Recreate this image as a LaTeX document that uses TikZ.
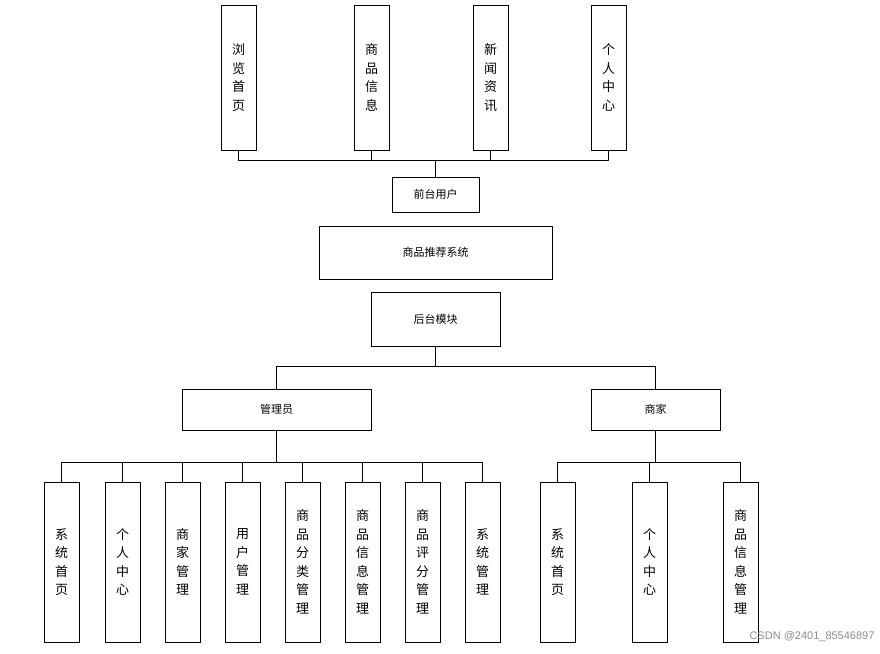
\documentclass[tikz,border=0pt]{standalone}
\usepackage{fontspec}
\newfontfamily\cjk{Noto Sans CJK SC}
\begin{document}
\begin{tikzpicture}[x=1pt,y=-1pt,
  box/.style={draw=black,line width=0.8pt,font=\cjk\fontsize{11}{13}\selectfont,inner sep=0pt},
  vbox/.style={box,minimum width=35pt,minimum height=#1pt,align=center,font=\cjk\fontsize{13}{18.5}\selectfont},
  ln/.style={line width=0.8pt}]
\useasboundingbox (0,0) rectangle (880,653);
% top
\node[vbox=145] (t1) at (238.5,77.5) {浏\\览\\首\\页};
\node[vbox=145] (t2) at (371.5,77.5) {商\\品\\信\\息};
\node[vbox=145] (t3) at (490.5,77.5) {新\\闻\\资\\讯};
\node[vbox=145] (t4) at (608.5,77.5) {个\\人\\中\\心};
\node[box,minimum width=87pt,minimum height=35pt] (qt) at (435.5,194.5) {前台用户};
\node[box,minimum width=233pt,minimum height=53pt] (sys) at (435.5,252.5) {商品推荐系统};
\node[box,minimum width=129pt,minimum height=54pt] (ht) at (435.5,319) {后台模块};
\node[box,minimum width=189pt,minimum height=41pt] (gl) at (276.5,409.5) {管理员};
\node[box,minimum width=129pt,minimum height=41pt] (sj) at (655.5,409.5) {商家};
\coordinate (b1) at (435.5,160);
\draw[ln] (t1.south) -- (t1.south|-b1) -- (t4.south|-b1) -- (t4.south);
\draw[ln] (t2.south) -- (t2.south|-b1);
\draw[ln] (t3.south) -- (t3.south|-b1);
\draw[ln] (b1) -- (qt.north);
\coordinate (b2) at (435.5,366);
\draw[ln] (ht.south) -- (b2);
\draw[ln] (gl.north) -- (gl.north|-b2) -- (sj.north|-b2) -- (sj.north);
% admin children
\foreach \n/\x/\t in {a1/61.5/系\\统\\首\\页, a2/122.5/个\\人\\中\\心, a3/182.5/商\\家\\管\\理, a4/242.5/用\\户\\管\\理, a5/302.5/商\\品\\分\\类\\管\\理, a6/362.5/商\\品\\信\\息\\管\\理, a7/422.5/商\\品\\评\\分\\管\\理, a8/482.5/系\\统\\管\\理}
  \node[vbox=160] (\n) at (\x,562) {\t};
\coordinate (b3) at (276.5,462);
\draw[ln] (gl.south) -- (b3);
\draw[ln] (a1.north) -- (a1.north|-b3) -- (a8.north|-b3) -- (a8.north);
\foreach \n in {a2,a3,a4,a5,a6,a7} \draw[ln] (\n.north) -- (\n.north|-b3);
\foreach \n/\x/\t in {s1/557.5/系\\统\\首\\页, s2/649.5/个\\人\\中\\心, s3/740.5/商\\品\\信\\息\\管\\理}
  \node[vbox=160] (\n) at (\x,562) {\t};
\coordinate (b4) at (655.5,462);
\draw[ln] (sj.south) -- (b4);
\draw[ln] (s1.north) -- (s1.north|-b4) -- (s3.north|-b4) -- (s3.north);
\draw[ln] (s2.north) -- (s2.north|-b4);
\node[font=\fontspec{Liberation Sans}\fontsize{11}{13}\selectfont,text=black!45,anchor=east] (wm) at (878,637) {CSDN @2401\_85546897};
\end{tikzpicture}
\end{document}
